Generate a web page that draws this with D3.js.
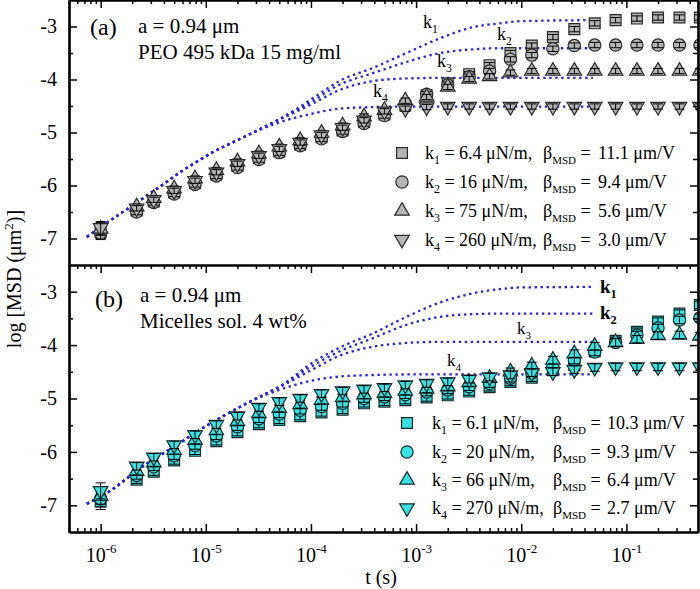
<!DOCTYPE html>
<html>
<head>
<meta charset="utf-8">
<script src="https://cdn.jsdelivr.net/npm/d3@7"></script>
<style>
  body { margin: 0; background: #fff; }
  svg { display: block; font-family: "Liberation Serif", "Times New Roman", Times, serif; }
</style>
</head>
<body>
<svg id="chart" width="700" height="589"></svg>
<script>
// lag times of the measured MSD points (s)
const times = [1e-6, 2.2e-6, 3.2e-6, 5e-6, 7.9e-6, 1.26e-5, 2e-5, 3.2e-5, 5e-5, 7.9e-5,
  1.26e-4, 2e-4, 3.2e-4, 5e-4, 7.9e-4, 1.26e-3, 2e-3, 3.2e-3, 5e-3, 7.9e-3,
  1.26e-2, 2e-2, 3.2e-2, 5e-2, 7.9e-2, 0.126, 0.2, 0.32, 0.5]

// (a) PEO 495 kDa, log MSD for each trap stiffness
const msdA_k1 = [-6.88, -6.47, -6.30, -6.13, -5.95, -5.79, -5.63, -5.48, -5.36, -5.23, -5.09, -4.96, -4.80, -4.66, -4.49, -4.30, -4.07, -3.90, -3.73, -3.50, -3.36, -3.20, -3.05, -2.94, -2.88, -2.85, -2.83, -2.83, -2.83]
const msdA_k2 = [-6.90, -6.50, -6.32, -6.16, -5.98, -5.82, -5.66, -5.51, -5.38, -5.25, -5.12, -4.98, -4.83, -4.68, -4.47, -4.28, -4.10, -3.95, -3.84, -3.62, -3.54, -3.42, -3.36, -3.35, -3.35, -3.35, -3.35, -3.35, -3.35]
const msdA_k3 = [-6.82, -6.40, -6.24, -6.06, -5.87, -5.71, -5.55, -5.40, -5.27, -5.15, -5.01, -4.87, -4.70, -4.58, -4.40, -4.33, -4.14, -3.99, -3.94, -3.87, -3.84, -3.84, -3.84, -3.84, -3.84, -3.84, -3.84, -3.84, -3.84]
const msdA_k4 = [-6.80, -6.43, -6.27, -6.10, -5.91, -5.75, -5.59, -5.44, -5.31, -5.19, -5.05, -4.91, -4.77, -4.60, -4.55, -4.52, -4.51, -4.51, -4.51, -4.51, -4.51, -4.51, -4.51, -4.51, -4.51, -4.51, -4.51, -4.51, -4.51]
const errA = [0.12, 0.05, 0.05, 0.05, 0.05, 0.05, 0.05, 0.05, 0.05, 0.05, 0.05, 0.05, 0.05, 0.05, 0.05, 0.05, 0.05, 0.05, 0.05, 0.05, 0.05, 0.05, 0.05, 0.05, 0.05, 0.05, 0.05, 0.05, 0.05]

// (b) micelles solution
const msdB_k1 = [-6.93, -6.52, -6.37, -6.16, -5.98, -5.80, -5.63, -5.48, -5.40, -5.33, -5.26, -5.21, -5.09, -5.06, -5.03, -4.98, -4.94, -4.87, -4.79, -4.69, -4.61, -4.47, -4.37, -4.12, -3.92, -3.75, -3.56, -3.41, -3.25]
const msdB_k2 = [-6.88, -6.44, -6.28, -6.07, -5.88, -5.70, -5.53, -5.38, -5.29, -5.22, -5.15, -5.09, -5.00, -4.97, -4.93, -4.88, -4.84, -4.78, -4.72, -4.62, -4.52, -4.40, -4.28, -4.13, -3.95, -3.81, -3.68, -3.53, -3.49]
const msdB_k3 = [-6.83, -6.36, -6.20, -5.97, -5.78, -5.60, -5.43, -5.28, -5.18, -5.11, -5.03, -4.98, -4.93, -4.90, -4.86, -4.82, -4.78, -4.70, -4.62, -4.50, -4.39, -4.28, -4.16, -4.02, -3.95, -3.89, -3.82, -3.81, -3.83]
const msdB_k4 = [-6.73, -6.27, -6.10, -5.87, -5.68, -5.49, -5.33, -5.17, -5.06, -5.00, -4.91, -4.86, -4.83, -4.80, -4.75, -4.72, -4.69, -4.64, -4.60, -4.56, -4.52, -4.50, -4.46, -4.42, -4.41, -4.41, -4.41, -4.41, -4.41]
const errB = [0.15, 0.07, 0.07, 0.07, 0.07, 0.07, 0.07, 0.07, 0.07, 0.07, 0.07, 0.07, 0.07, 0.07, 0.07, 0.07, 0.07, 0.07, 0.07, 0.07, 0.07, 0.07, 0.07, 0.07, 0.07, 0.07, 0.07, 0.07, 0.07]

// dotted model curves
const fitTimes = [7.4e-7, 1.32e-6, 1.9e-6, 2.75e-6, 4e-6, 5.7e-6, 8.1e-6, 1.17e-5, 1.7e-5, 2.45e-5, 3.55e-5, 5e-5, 1.05e-4, 1.86e-4, 3.9e-4, 8.1e-4, 1.7e-3, 3.5e-3, 6.3e-3, 9.8e-3, 0.048]
const fitA_k1 = [-6.97, -6.62, -6.41, -6.19, -5.97, -5.75, -5.56, -5.37, -5.21, -5.06, -4.90, -4.75, -4.35, -4.03, -3.78, -3.50, -3.22, -3.01, -2.94, -2.90, -2.88]
const fitA_k2 = [-6.97, -6.62, -6.41, -6.19, -5.97, -5.75, -5.56, -5.37, -5.21, -5.06, -4.90, -4.75, -4.40, -4.10, -3.88, -3.67, -3.50, -3.43, -3.41, -3.41, -3.41]
const fitA_k3 = [-6.97, -6.62, -6.41, -6.19, -5.97, -5.75, -5.56, -5.37, -5.21, -5.06, -4.90, -4.76, -4.45, -4.20, -4.03, -3.98, -3.97, -3.97, -3.97, -3.97, -3.97]
const fitA_k4 = [-6.97, -6.62, -6.41, -6.19, -5.97, -5.75, -5.56, -5.37, -5.21, -5.06, -4.92, -4.81, -4.64, -4.55, -4.52, -4.51, -4.51, -4.51, -4.51, -4.51, -4.51]
const fitB_k1 = [-6.97, -6.69, -6.45, -6.22, -6.02, -5.83, -5.63, -5.44, -5.26, -5.09, -4.93, -4.78, -4.32, -4.05, -3.78, -3.47, -3.20, -3.03, -2.95, -2.92, -2.91]
const fitB_k2 = [-6.97, -6.69, -6.45, -6.22, -6.02, -5.83, -5.63, -5.44, -5.26, -5.09, -4.93, -4.78, -4.38, -4.12, -3.87, -3.62, -3.47, -3.42, -3.41, -3.41, -3.41]
const fitB_k3 = [-6.97, -6.69, -6.45, -6.22, -6.02, -5.83, -5.63, -5.44, -5.26, -5.09, -4.93, -4.79, -4.45, -4.20, -4.03, -3.96, -3.94, -3.94, -3.94, -3.94, -3.94]
const fitB_k4 = [-6.97, -6.69, -6.45, -6.22, -6.02, -5.83, -5.63, -5.44, -5.26, -5.09, -4.95, -4.84, -4.66, -4.59, -4.56, -4.55, -4.55, -4.55, -4.55, -4.55, -4.55]

// legend texts
const kLabelsA = ["6.4", "16", "75", "260"]
const betaLabelsA = ["11.1", "9.4", "5.6", "3.0"]
const kLabelsB = ["6.1", "20", "66", "270"]
const betaLabelsB = ["10.3", "9.3", "6.4", "2.7"]

const yMajor = [-7, -6, -5, -4, -3]
const yMinor = [-6.5, -5.5, -4.5, -3.5]

const svg = d3.select("#chart")
const plotLeft = 69
const plotRight = 698
const fitColor = "#2424e8"

let x = d3.scaleLog()
    .domain([5e-7, 0.48])
    .range([plotLeft, plotRight])

let xTicks = x.ticks()
let xMajor = xTicks.filter(d => Math.abs(Math.log10(d) - Math.round(Math.log10(d))) < 1e-9)
let xMinor = xTicks.filter(d => !xMajor.includes(d))

// square, circle, up triangle, down triangle
const symbols = [
    d3.symbol(d3.symbolSquare, 118),
    d3.symbol(d3.symbolCircle, 118),
    d3.symbol(d3.symbolTriangle, 92),
    d3.symbol(d3.symbolTriangle, 92)
]
const rotations = [0, 0, 0, 180]

const panels = [
    {
        id: "a", top: 0, bottom: 265, fill: "#b5b5b5", stroke: "#2a2a2a",
        series: [msdA_k1, msdA_k2, msdA_k3, msdA_k4], err: errA,
        fits: [fitA_k1, fitA_k2, fitA_k3, fitA_k4],
        kLabels: kLabelsA, betaLabels: betaLabelsA,
        legend: { rows: [153, 182, 211, 239.5], sx: 402, kx: 425, vx: 459, bx: 543, nx: 598 },
        fitLabels: [[423, 28, 18], [497, 40, 18], [437, 67, 18], [373, 97, 18]],
        title: "(a)", titlePos: [90, 35],
        notes: [["a = 0.94 μm", 138, 33], ["PEO 495 kDa 15 mg/ml", 138, 59]]
    },
    {
        id: "b", top: 265, bottom: 532, fill: "#36e3e3", stroke: "#1a2a2a",
        series: [msdB_k1, msdB_k2, msdB_k3, msdB_k4], err: errB,
        fits: [fitB_k1, fitB_k2, fitB_k3, fitB_k4],
        kLabels: kLabelsB, betaLabels: betaLabelsB,
        legend: { rows: [423, 452, 480, 508], sx: 407, kx: 432, vx: 466, bx: 553, nx: 607 },
        fitLabels: [[600, 293, 19], [600, 319, 19], [517, 334, 17], [447, 366, 17]],
        title: "(b)", titlePos: [95, 307],
        notes: [["a = 0.94 μm", 140, 302], ["Micelles sol. 4 wt%", 140, 328]]
    }
]

function styleAxis(g) {
    g.attr("font-family", null).attr("font-size", null)
    g.select(".domain").attr("stroke-width", 2.2)
    g.selectAll(".tick line").attr("stroke-width", 1.5)
}

function drawPanel(p) {
    let y = d3.scaleLinear()
        .domain([-7.5, -2.5])
        .range([p.bottom, p.top])

    let panel = svg.append("g").attr("class", "panel-" + p.id)

    panel.append("clipPath")
        .attr("id", "clip-" + p.id)
        .append("rect")
        .attr("x", plotLeft)
        .attr("y", p.top)
        .attr("width", plotRight - plotLeft)
        .attr("height", p.bottom - p.top)

    let plot = panel.append("g").attr("clip-path", "url(#clip-" + p.id + ")")

    // Model curves
    let line = d3.line()
        .x(d => x(d[0]))
        .y(d => y(d[1]))
        .curve(d3.curveMonotoneX)

    p.fits.forEach(f => {
        plot.append("path")
            .datum(d3.zip(fitTimes, f))
            .attr("d", line)
            .attr("fill", "none")
            .attr("stroke", fitColor)
            .attr("stroke-width", 2.3)
            .attr("stroke-dasharray", "2.4,3.6")
    })

    // Data points with error bars
    p.series.forEach((s, i) => {
        let pts = d3.zip(times, s, p.err)
        let sg = plot.append("g")

        sg.selectAll("path")
            .data(pts)
            .join("path")
            .attr("transform", d => "translate(" + x(d[0]) + "," + y(d[1]) + ") rotate(" + rotations[i] + ")")
            .attr("d", symbols[i])
            .attr("fill", p.fill)
            .attr("stroke", p.stroke)
            .attr("stroke-width", 1.2)

        let eb = sg.selectAll("g.eb")
            .data(pts)
            .join("g")
            .attr("class", "eb")
            .attr("stroke", "#000")
            .attr("stroke-width", 1)

        eb.append("line")
            .attr("x1", d => x(d[0])).attr("x2", d => x(d[0]))
            .attr("y1", d => y(d[1] - d[2])).attr("y2", d => y(d[1] + d[2]))
        eb.append("line")
            .attr("x1", d => x(d[0]) - 5).attr("x2", d => x(d[0]) + 5)
            .attr("y1", d => y(d[1] - d[2])).attr("y2", d => y(d[1] - d[2]))
        eb.append("line")
            .attr("x1", d => x(d[0]) - 5).attr("x2", d => x(d[0]) + 5)
            .attr("y1", d => y(d[1] + d[2])).attr("y2", d => y(d[1] + d[2]))
    })

    // Left axis
    panel.append("g")
        .attr("transform", "translate(" + plotLeft + ",0)")
        .call(d3.axisLeft(y).tickValues(yMajor).tickSize(-8).tickSizeOuter(0).tickPadding(12).tickFormat(d => String(d)))
        .call(styleAxis)
        .selectAll("text").attr("font-size", 20)
    panel.append("g")
        .attr("transform", "translate(" + plotLeft + ",0)")
        .call(d3.axisLeft(y).tickValues(yMinor).tickSize(-4).tickSizeOuter(0).tickFormat(""))
        .call(styleAxis)

    // Right axis
    panel.append("g")
        .attr("transform", "translate(" + plotRight + ",0)")
        .call(d3.axisRight(y).tickValues(yMajor).tickSize(-8).tickSizeOuter(0).tickFormat(""))
        .call(styleAxis)
    panel.append("g")
        .attr("transform", "translate(" + plotRight + ",0)")
        .call(d3.axisRight(y).tickValues(yMinor).tickSize(-5).tickSizeOuter(0).tickFormat(""))
        .call(styleAxis)

    // Top axis (ticks pointing into the panel)
    panel.append("g")
        .attr("transform", "translate(0," + p.top + ")")
        .call(d3.axisTop(x).tickValues(xMajor).tickSize(-8).tickSizeOuter(0).tickFormat(""))
        .call(styleAxis)
    panel.append("g")
        .attr("transform", "translate(0," + p.top + ")")
        .call(d3.axisTop(x).tickValues(xMinor).tickSize(-4).tickSizeOuter(0).tickFormat(""))
        .call(styleAxis)

    // Panel texts
    panel.append("text")
        .attr("x", p.titlePos[0]).attr("y", p.titlePos[1])
        .attr("font-size", 24)
        .text(p.title)
    p.notes.forEach(n => {
        panel.append("text")
            .attr("x", n[1]).attr("y", n[2])
            .attr("font-size", 21)
            .text(n[0])
    })

    // Curve labels
    p.fitLabels.forEach((l, i) => {
        let t = panel.append("text")
            .attr("x", l[0]).attr("y", l[1])
            .attr("font-size", l[2])
            .attr("font-weight", l[2] > 18 ? "bold" : "normal")
        t.append("tspan").text("k")
        t.append("tspan").attr("dy", 5).attr("font-size", l[2] * 0.65).text(i + 1)
    })

    // Legend
    let lg = p.legend
    lg.rows.forEach((cy, i) => {
        let row = panel.append("g").attr("font-size", 18)
        row.append("path")
            .attr("transform", "translate(" + lg.sx + "," + cy + ") rotate(" + rotations[i] + ")")
            .attr("d", symbols[i])
            .attr("fill", p.fill)
            .attr("stroke", p.stroke)
            .attr("stroke-width", 1.2)

        let t1 = row.append("text").attr("x", lg.kx).attr("y", cy + 6)
        t1.append("tspan").text("k")
        t1.append("tspan").attr("dy", 5).attr("font-size", 12).text(i + 1)
        t1.append("tspan").attr("dy", -5).text(" =")

        row.append("text").attr("x", lg.vx).attr("y", cy + 6)
            .text(p.kLabels[i] + " μN/m,")

        let t2 = row.append("text").attr("x", lg.bx).attr("y", cy + 6)
        t2.append("tspan").text("β")
        t2.append("tspan").attr("dy", 5).attr("font-size", 11).text("MSD")
        t2.append("tspan").attr("dy", -5).text(" =")

        row.append("text").attr("x", lg.nx).attr("y", cy + 6)
            .text(p.betaLabels[i] + " μm/V")
    })

    return y
}

panels.forEach(p => drawPanel(p))

// Bottom axis with decade labels
let bottomY = panels[1].bottom
let bx = svg.append("g")
    .attr("transform", "translate(0," + bottomY + ")")
    .call(d3.axisBottom(x).tickValues(xMajor).tickSize(-8).tickSizeOuter(0).tickFormat(""))
    .call(styleAxis)
bx.selectAll(".tick").each(function(d) {
    let t = d3.select(this).append("text")
        .attr("y", 30)
        .attr("fill", "#000")
        .attr("text-anchor", "middle")
        .attr("font-size", 20)
    t.append("tspan").text("10")
    t.append("tspan").attr("dy", -9).attr("font-size", 13).text(Math.round(Math.log10(d)))
})
svg.append("g")
    .attr("transform", "translate(0," + bottomY + ")")
    .call(d3.axisBottom(x).tickValues(xMinor).tickSize(-4).tickSizeOuter(0).tickFormat(""))
    .call(styleAxis)

// Axis titles
svg.append("text")
    .attr("x", 381).attr("y", 584)
    .attr("text-anchor", "middle")
    .attr("font-size", 20)
    .text("t (s)")

let yTitle = svg.append("text")
    .attr("transform", "translate(21,279) rotate(-90)")
    .attr("text-anchor", "middle")
    .attr("font-size", 20)
yTitle.append("tspan").text("log [MSD (μm")
yTitle.append("tspan").attr("dy", -8).attr("font-size", 13).text("2")
yTitle.append("tspan").attr("dy", 8).text(")]")
</script>
</body>
</html>
